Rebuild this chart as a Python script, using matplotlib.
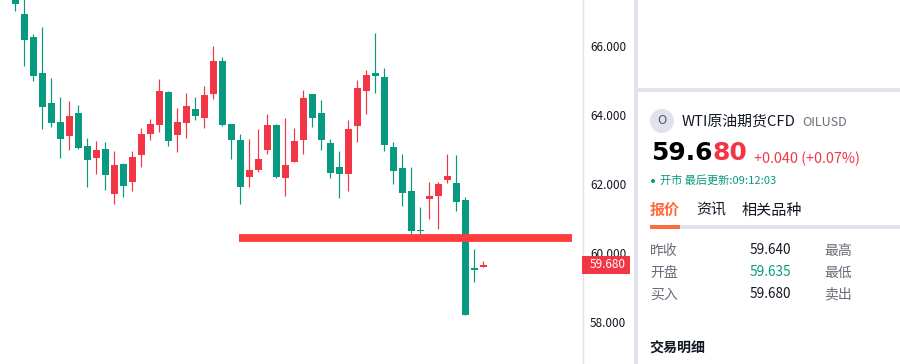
import matplotlib
matplotlib.use("Agg")
import matplotlib.pyplot as plt
from matplotlib.patches import Rectangle, Circle

plt.rcParams['font.family'] = ['Noto Sans CJK SC', 'DejaVu Sans']

UP = '#F23645'
DOWN = '#089981'
GRID = '#E0E3EB'

opens = [67.45,66.94,66.28,65.23,64.36,63.81,63.40,64.07,63.11,62.76,63.02,61.72,62.59,62.07,62.85,63.46,63.72,64.68,63.43,63.78,64.18,63.92,64.62,65.58,63.75,63.28,62.21,62.41,62.99,63.72,62.18,62.65,63.28,64.62,64.07,63.20,62.50,62.30,63.69,64.71,65.23,65.11,63.08,62.47,61.80,60.68,61.57,61.66,62.12,62.04,61.54,59.57,59.60]
highs = [67.54,67.45,66.36,66.57,65.08,64.53,64.42,64.30,63.34,63.26,63.23,62.96,62.62,62.96,63.63,63.89,65.06,64.71,64.21,64.65,64.53,64.85,66.01,65.69,63.75,63.46,63.31,63.60,64.04,63.75,63.92,63.63,64.74,64.62,64.45,63.31,62.96,63.86,65.03,65.32,66.39,65.38,63.23,62.88,62.50,61.34,62.06,62.06,62.88,62.85,61.63,60.12,59.77]
lows = [67.03,65.43,65.00,63.60,63.66,62.76,62.99,63.02,61.92,62.30,61.83,61.43,61.63,61.80,62.50,63.28,63.52,63.11,62.94,63.34,63.86,63.63,64.47,63.69,62.73,61.43,61.92,62.36,62.88,62.18,61.66,62.65,62.88,63.66,62.99,62.18,61.60,61.80,63.23,64.04,64.65,62.96,62.01,61.37,60.53,60.53,60.99,60.70,62.05,61.22,58.20,59.16,59.60]
closes = [67.23,66.19,65.14,64.24,63.78,63.31,63.98,63.05,62.70,62.99,62.27,62.56,61.95,62.79,63.46,63.75,64.71,63.26,63.81,64.27,63.98,64.59,65.58,63.72,63.28,61.92,62.41,62.73,63.72,62.21,62.56,63.26,64.50,63.92,63.28,62.33,62.30,63.60,64.79,65.17,65.14,63.14,62.38,61.75,60.65,60.64,61.66,62.01,62.24,61.48,58.20,59.52,59.65]

price_ticks = [58, 60, 62, 64, 66]
last_price = 59.68
level_price = 60.45
level_span = [24.86, 61.86]

W, H = 900, 364
fig = plt.figure(figsize=(W / 100, H / 100), dpi=100, facecolor='white')

# chart area: pixels x 0..582.5
ax = fig.add_axes([0, 0, 582.5 / W, 1])
ax.set_xlim(-15.3 / 9, (582.5 - 15.3) / 9)
ax.set_ylim(58 - 42 / 34.44, 58 + 322 / 34.44)
for s in ('top', 'left', 'bottom'):
    ax.spines[s].set_visible(False)
ax.spines['right'].set_color(GRID)
ax.spines['right'].set_linewidth(1.0)
ax.xaxis.set_visible(False)
ax.yaxis.tick_right()
ax.set_yticks(price_ticks)
ax.set_yticklabels([f'{v:.3f}' for v in price_ticks], fontsize=8.5, color='#131722')
ax.tick_params(axis='y', length=0, pad=5.5)

for i, (o, h, l, c) in enumerate(zip(opens, highs, lows, closes)):
    col = UP if c >= o else DOWN
    ax.vlines(i, l, h, color=col, linewidth=0.85, zorder=2)
    ax.bar(i, abs(c - o), bottom=min(o, c), width=7 / 9, color=col, linewidth=0, zorder=3)

ax.plot(level_span, [level_price, level_price], color='#FF3B3B', linewidth=5.6,
        solid_capstyle='butt', zorder=5)

# overlay in pixel coordinates for the axis tag and the quote panel
ov = fig.add_axes([0, 0, 1, 1])
ov.set_xlim(0, W)
ov.set_ylim(H, 0)
ov.axis('off')
ov.patch.set_alpha(0)

ov.add_patch(Rectangle((582, 256), 48, 18, color=UP, linewidth=0))
ov.text(590, 265, f'{last_price:.3f}', color='white', fontsize=8.5, va='center', ha='left',
        fontweight='medium')

ov.add_patch(Rectangle((634, 0), 4, H, color=GRID, linewidth=0))
ov.add_patch(Rectangle((638, 88), 262, 4, color=GRID, linewidth=0))
ov.add_patch(Rectangle((650, 225), 250, 4, color=GRID, linewidth=0))
ov.add_patch(Rectangle((650, 225), 30, 4, color='#FF6B3D', linewidth=0))

ov.add_patch(Circle((662, 121), 12, color=GRID, linewidth=0))
ov.text(662, 121, 'O', color='#50535E', fontsize=9, ha='center', va='center')
ov.text(682, 122, 'WTI原油期货CFD', color='#131722', fontsize=10.7, va='center')
ov.text(802, 122, 'OILUSD', color='#6A6D78', fontsize=9, va='center')

ov.text(651, 153, '59.6', color='black', fontsize=18, fontweight='bold', va='center',
        family='DejaVu Sans')
ov.text(713, 153, '80', color=UP, fontsize=18, fontweight='bold', va='center',
        family='DejaVu Sans')
ov.text(754, 158.5, '+0.040 (+0.07%)', color=UP, fontsize=10.3, va='center')

ov.add_patch(Circle((653, 181), 2, color=DOWN, linewidth=0))
ov.text(660, 181, '开市 最后更新:09:12:03', color=DOWN, fontsize=8.05, va='center')

ov.text(650, 210, '报价', color='#FF6B3D', fontsize=10.8, fontweight='bold', va='center')
ov.text(696, 210, '资讯', color='#131722', fontsize=10.8, va='center')
ov.text(742, 210, '相关品种', color='#131722', fontsize=10.9, va='center')

rows = [('昨收', '59.640', '最高', '#131722', 250.5),
        ('开盘', '59.635', '最低', DOWN, 272.5),
        ('买入', '59.680', '卖出', '#131722', 294.5)]
for a, b, d, col, y in rows:
    ov.text(650, y, a, color='#6A6D78', fontsize=10, va='center')
    ov.text(750, y, b, color=col, fontsize=9.8, va='center')
    ov.text(824, y, d, color='#6A6D78', fontsize=10, va='center')

ov.text(649, 348.5, '交易明细', color='#131722', fontsize=10.1, fontweight='bold', va='center')

fig.savefig('out.png', dpi=100, facecolor='white')
